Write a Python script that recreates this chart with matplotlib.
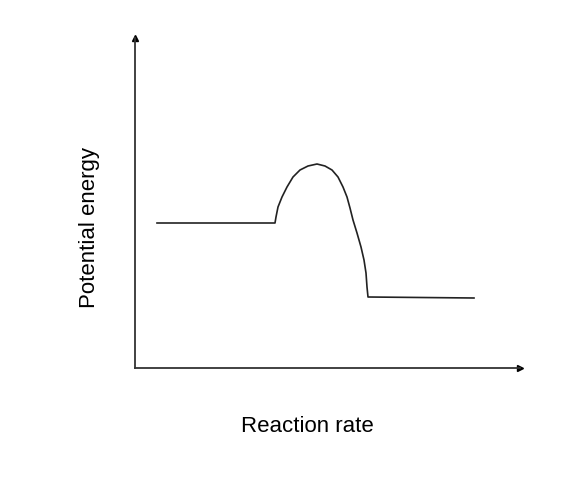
import matplotlib.pyplot as plt

# reaction path
path_x = [22, 140, 141, 143, 147, 152, 158, 165, 173, 182, 190, 197, 203, 208,
          212, 215, 218, 222, 226, 229, 231, 232, 233, 339]
path_y = [145, 145, 151, 161, 171, 181, 191, 198, 202, 204, 202, 198, 191, 181,
          171, 160, 148, 135, 121, 108, 95, 81, 71, 70]

x_label = "Reaction rate"
y_label = "Potential energy"

plt.rcParams['font.family'] = ['Liberation Sans', 'DejaVu Sans']

fig = plt.figure(figsize=(5.69, 4.79), dpi=100)
ax = fig.add_axes([135 / 569, (479 - 368) / 479, (520 - 135) / 569, (368 - 38) / 479])

ax.plot(path_x, path_y, color='#222222', lw=1.2, solid_joinstyle='round')

ax.set_xlim(0, 385)
ax.set_ylim(0, 330)
ax.set_xticks([])
ax.set_yticks([])
for side in ['top', 'right']:
    ax.spines[side].set_visible(False)
for side in ['left', 'bottom']:
    ax.spines[side].set_color('#333333')
    ax.spines[side].set_linewidth(1.3)

# arrow heads at the axis ends
ax.plot(1, 0, '>', color='black', ms=5, transform=ax.transAxes, clip_on=False)
ax.plot(0, 1, '^', color='black', ms=5, transform=ax.transAxes, clip_on=False)

fig.text(307 / 569, 1 - 427 / 479, x_label, ha='center', va='center', fontsize=16)
fig.text(90 / 569, 1 - 228 / 479, y_label, ha='center', va='center', fontsize=16, rotation=90)

fig.savefig('out.png', dpi=100)
